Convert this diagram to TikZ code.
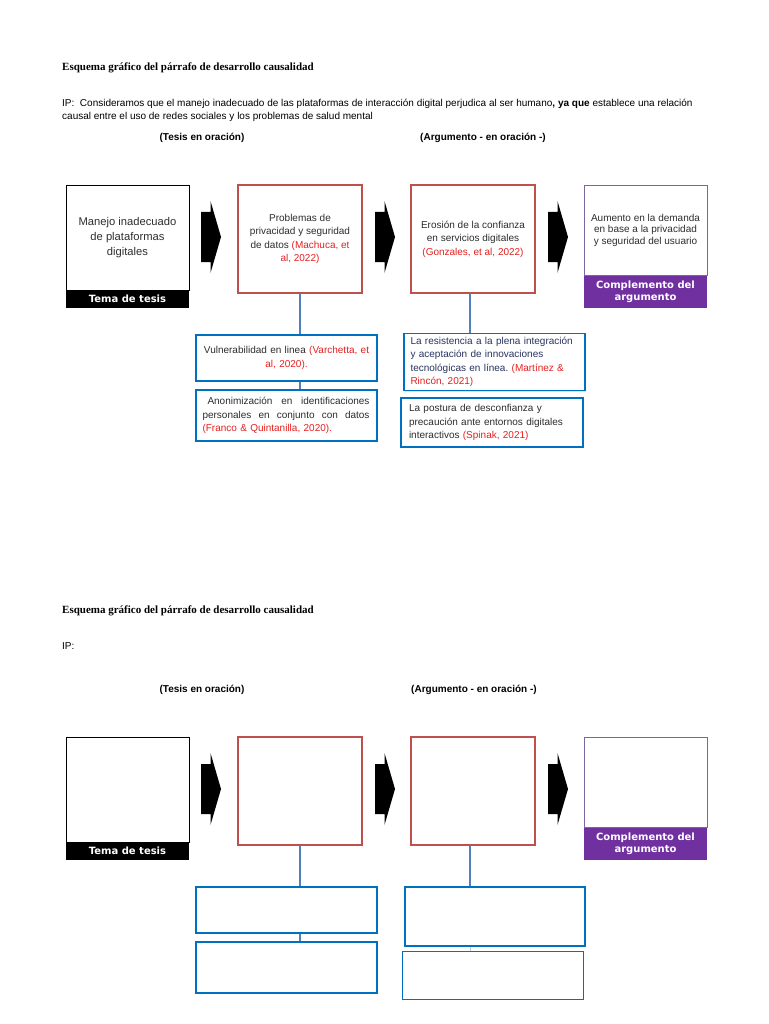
\documentclass[tikz,border=0pt]{standalone}
\usepackage{fontspec}
\setmainfont{Liberation Sans}
\newfontfamily\titlefont{Liberation Serif}
\newfontfamily\barfont{DejaVu Sans}
\usetikzlibrary{shadows}
\frenchspacing

\definecolor{boxred}{RGB}{192,80,77}
\definecolor{citered}{RGB}{228,32,32}
\definecolor{barpurple}{RGB}{112,48,160}
\definecolor{linepurple}{RGB}{128,100,162}
\definecolor{boxblue}{RGB}{0,112,192}
\definecolor{linkblue}{RGB}{79,129,189}
\definecolor{textnavy}{RGB}{40,52,96}
\definecolor{textgray}{RGB}{45,45,45}

\newcommand{\cita}[1]{{\color{citered}#1}}
% flecha de bloque: borde izquierdo x, centro y
\newcommand{\flecha}[2]{\fill ({#1},{#2-25}) -- ({#1+9.5},{#2-25}) -- ({#1+9.5},{#2-36})
  -- ({#1+20},{#2}) -- ({#1+9.5},{#2+36}) -- ({#1+9.5},{#2+25}) -- ({#1},{#2+25}) -- cycle;}
% linea justificada a todo el ancho
\newcommand{\lineajust}[1]{\leavevmode\hbox to 167pt{#1}}

\tikzset{
  titulo/.style={anchor=west, inner sep=0, font=\titlefont\bfseries\fontsize{11}{13}\selectfont},
  parrafo/.style={anchor=west, inner sep=0, align=left, font=\fontsize{10}{13}\selectfont},
  encabezado/.style={inner sep=0, font=\bfseries\fontsize{10}{12}\selectfont},
  tesisbox/.style={draw=black, line width=0.8pt, fill=white, minimum width=123, minimum height=105,
    align=center, text=textgray, font=\fontsize{11.2}{15}\selectfont},
  causabox/.style={draw=boxred, line width=1.5pt, fill=white, minimum width=124, minimum height=108,
    align=center, text=textgray, font=\fontsize{10}{13.5}\selectfont},
  complbox/.style={draw=linepurple, line width=0.8pt, fill=white, minimum width=123, minimum height=90,
    align=center, text=textgray, font=\fontsize{10}{11.5}\selectfont},
  datobox/.style={draw=boxblue, line width=1.3pt, fill=white,
    drop shadow={shadow xshift=1pt, shadow yshift=-1.2pt, opacity=0.25},
    minimum width=181, text=textgray, font=\fontsize{10}{13.5}\selectfont},
  temabar/.style={fill=black, text=white, inner sep=0, minimum width=123.8, minimum height=17,
    font=\barfont\bfseries\fontsize{10}{11}\selectfont},
  complbar/.style={fill=barpurple, text=white, inner sep=0, minimum width=123.8, minimum height=32,
    align=center, font=\barfont\bfseries\fontsize{10}{12}\selectfont},
  enlace/.style={draw=linkblue, line width=1.6pt}
}

\begin{document}
\begin{tikzpicture}[x=1pt, y=-1pt]
  \fill[white] (0,0) rectangle (768,1024);
  \useasboundingbox (0,0) rectangle (768,1024);

  % primer esquema
  \node[titulo] (tit) at (62,68) {Esquema gráfico del párrafo de desarrollo causalidad};
  \node[parrafo] (ip) at (62,110) {IP:\ \ Consideramos que el manejo inadecuado de las plataformas de interacción digital perjudica al ser humano\textbf{, ya que} establece una relación\\
    causal entre el uso de redes sociales y los problemas de salud mental};
  \node[encabezado] (hTesis) at (202,138) {(Tesis en oración)};
  \node[encabezado] (hArg) at (483,138) {(Argumento - en oración -)};

  \node[tesisbox] (tesis) at (127.5,237.5) {Manejo inadecuado\\ de plataformas\\ digitales};
  \node[temabar, anchor=north] (tema) at (tesis.south) {Tema de tesis};
  \node[causabox] (causa) at (300,239) {Problemas de\\ privacidad y seguridad\\ de datos \cita{(Machuca, et}\\ \cita{al, 2022)}};
  \node[causabox] (efecto) at (473,239) {Erosión de la confianza\\ en servicios digitales\\ \cita{(Gonzales, et al, 2022)}};
  \node[complbox] (compl) at (645.5,230) {Aumento en la demanda\\ en base a la privacidad\\ y seguridad del usuario};
  \node[complbar, anchor=north] (complTxt) at (compl.south) {Complemento del\\ argumento};

  \flecha{201}{237}
  \flecha{375}{237}
  \flecha{548}{237}

  \node[datobox, minimum height=46, text width=170, align=center] (datoA) at (286.5,358)
    {Vulnerabilidad en linea \cita{(Varchetta, et}\\ \cita{al, 2020).}};
  \node[datobox, minimum height=51, text width=168, align=left] (datoB) at (286.5,415.5)
    {\lineajust{\hspace*{5pt}Anonimización\hfill en\hfill identificaciones}\\
     \lineajust{personales\hfill en\hfill conjunto\hfill con\hfill datos}\\
     \cita{(Franco \& Quintanilla, 2020).}};
  \node[datobox, minimum height=54, text width=168, align=left, text=textnavy] (datoC) at (494.5,362)
    {La resistencia a la plena integración\\ y aceptación de innovaciones\\ tecnológicas en línea. \cita{(Martínez \&}\\ \cita{Rincón, 2021)}};
  \node[datobox, minimum height=49, minimum width=182, text width=166, align=left] (datoD) at (492,422.5)
    {La postura de desconfianza y\\ precaución ante entornos digitales\\ interactivos \cita{(Spinak, 2021)}};

  \draw[enlace] (causa.south) -- (causa.south |- datoA.north);
  \draw[enlace] (causa.south |- datoA.south) -- (causa.south |- datoB.north);
  \draw[enlace] ([xshift=-3pt]efecto.south) -- ([xshift=-3pt]efecto.south |- datoC.north);

  % segundo esquema
  \node[titulo] (titII) at (62,611) {Esquema gráfico del párrafo de desarrollo causalidad};
  \node[parrafo] (ipII) at (62,646) {IP:};
  \node[encabezado] (hTesisII) at (202,690) {(Tesis en oración)};
  \node[encabezado] (hArgII) at (474,690) {(Argumento - en oración -)};

  \node[tesisbox] (tesisII) at (127.5,789.5) {};
  \node[temabar, anchor=north] (temaII) at (tesisII.south) {Tema de tesis};
  \node[causabox] (causaII) at (300,791) {};
  \node[causabox] (efectoII) at (473,791) {};
  \node[complbox] (complII) at (645.5,782) {};
  \node[complbar, anchor=north] (complTxtII) at (complII.south) {Complemento del\\ argumento};

  \flecha{201}{789}
  \flecha{375}{789}
  \flecha{548}{789}

  \node[datobox, minimum height=46] (datoAII) at (286.5,910) {};
  \node[datobox, minimum height=51] (datoBII) at (286.5,967.5) {};
  \node[datobox, minimum height=59, minimum width=180] (datoCII) at (495,916.5) {};
  \node[datobox, minimum height=48, minimum width=181, line width=0.9pt] (datoDII) at (492.5,975) {};

  \draw[enlace] (causaII.south) -- (causaII.south |- datoAII.north);
  \draw[enlace] (causaII.south |- datoAII.south) -- (causaII.south |- datoBII.north);
  \draw[enlace] ([xshift=-3pt]efectoII.south) -- ([xshift=-3pt]efectoII.south |- datoCII.north);
  \draw[enlace, line width=0.8pt, linkblue!40] ([xshift=-3pt]efectoII.south |- datoCII.south) -- ([xshift=-3pt]efectoII.south |- datoDII.north);
\end{tikzpicture}
\end{document}
